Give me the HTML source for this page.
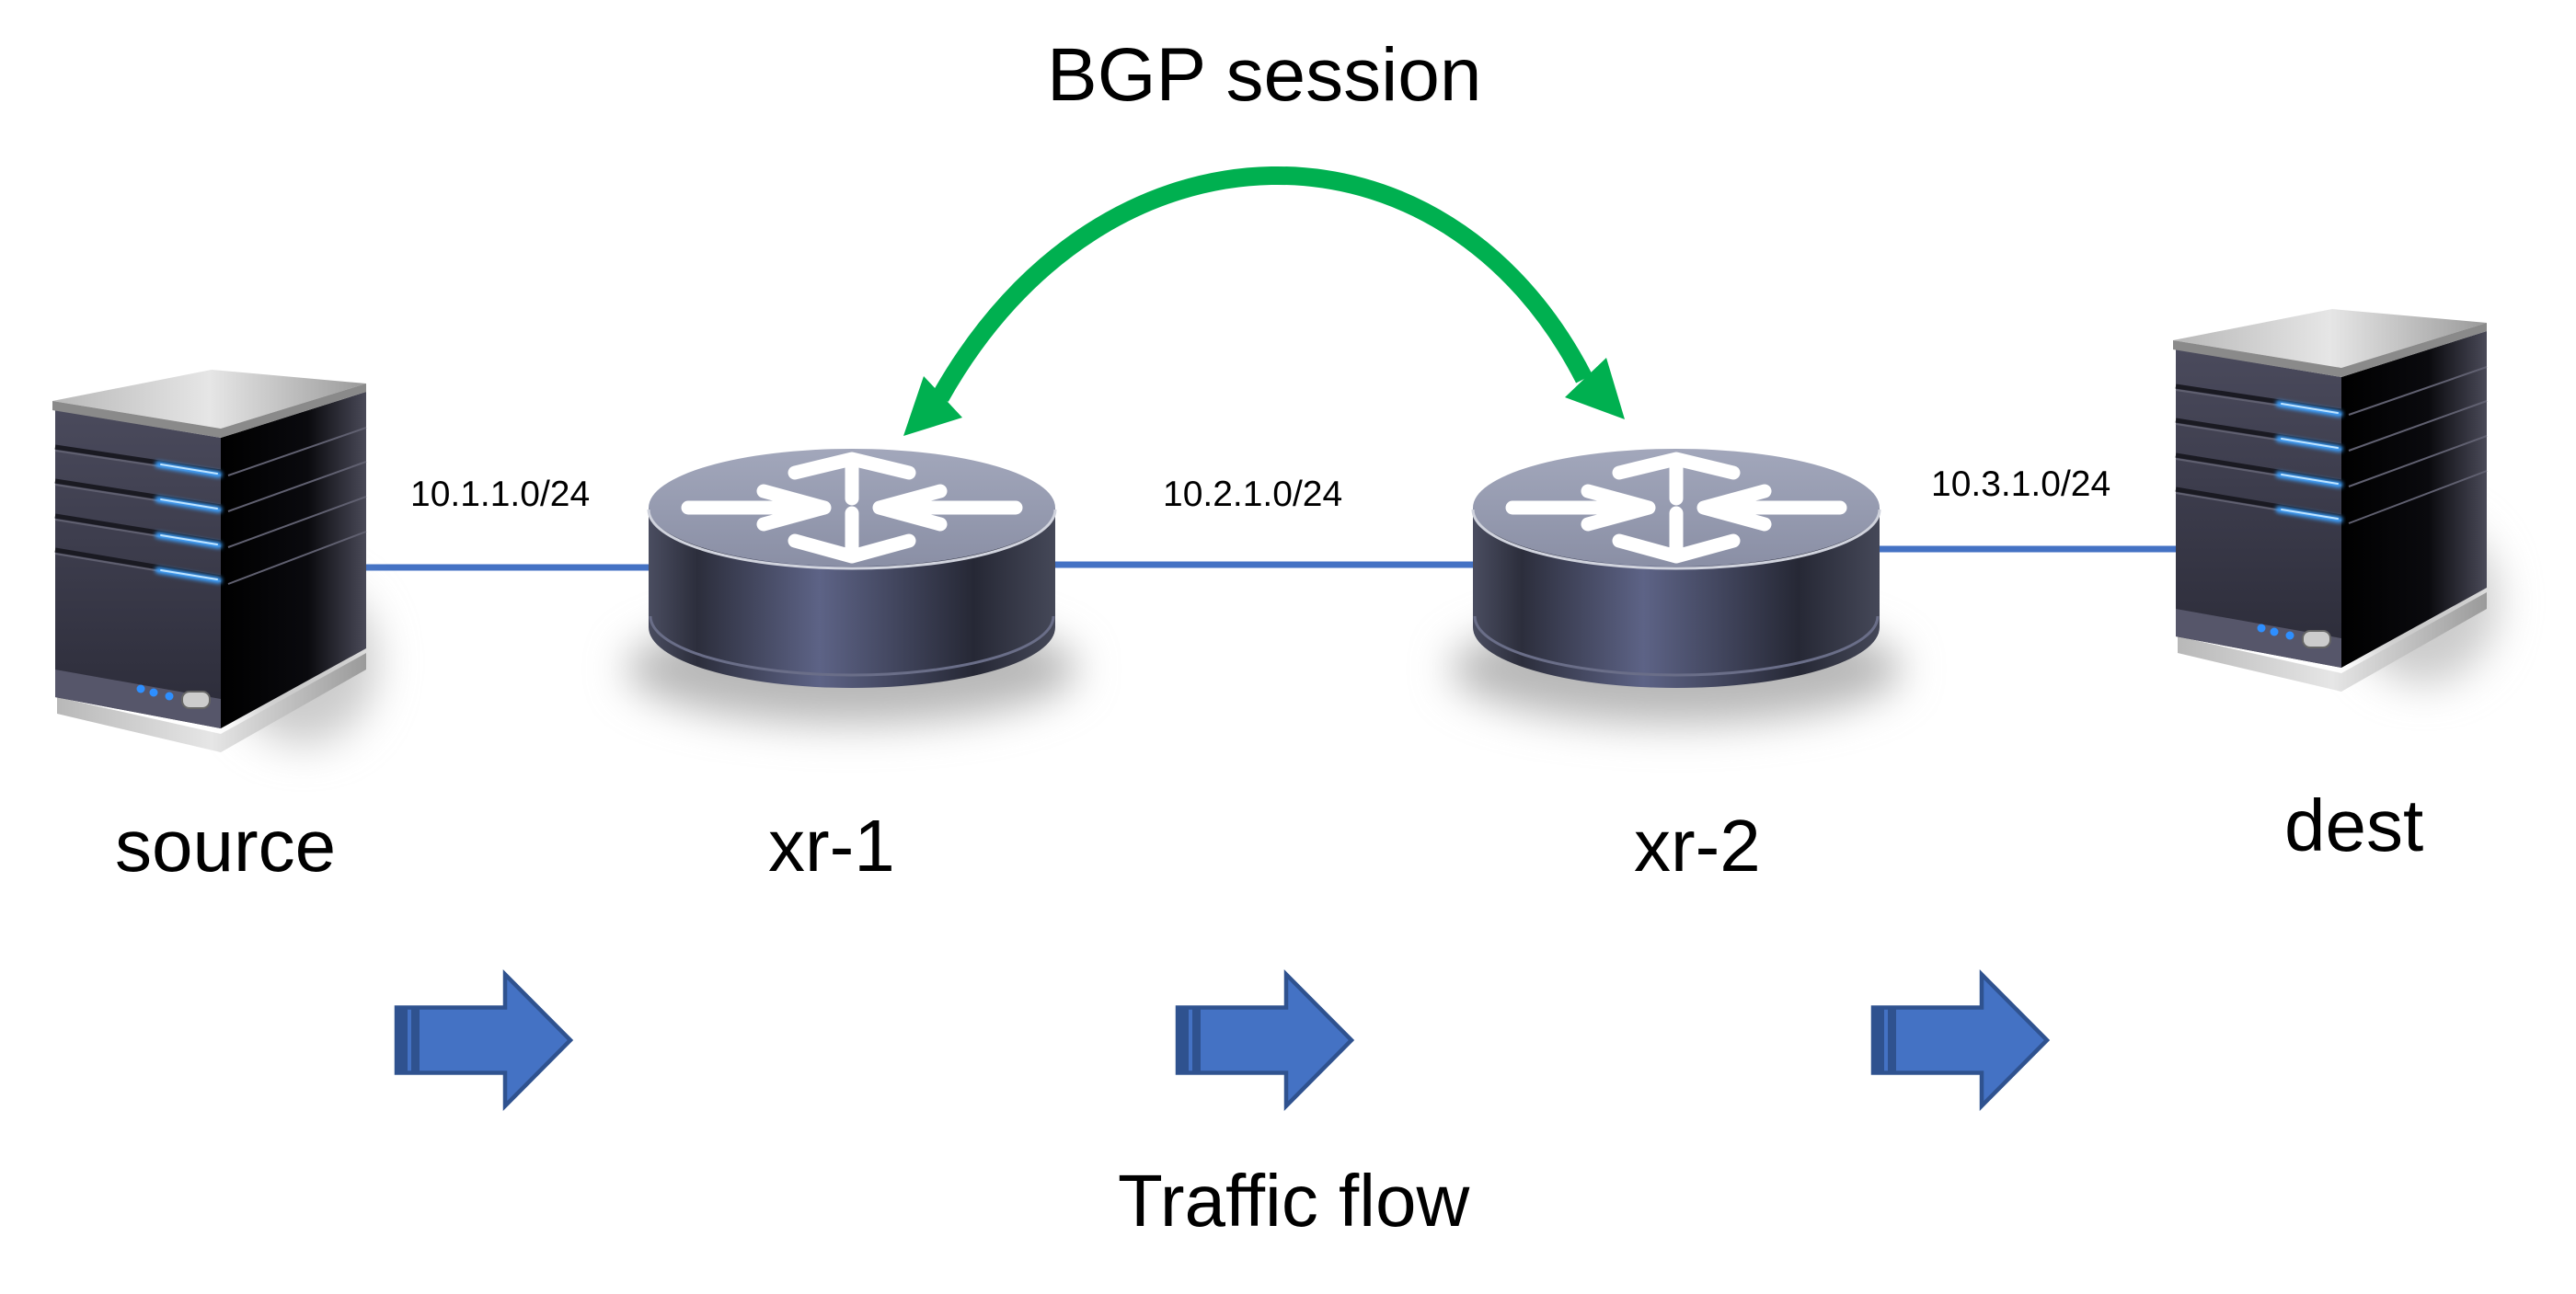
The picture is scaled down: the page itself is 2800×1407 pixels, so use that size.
<!DOCTYPE html>
<html><head><meta charset="utf-8"><style>html,body{margin:0;padding:0;background:#fff}svg{display:block}</style></head>
<body>
<svg width="2800" height="1407" viewBox="0 0 2800 1407" xmlns="http://www.w3.org/2000/svg" font-family="Liberation Sans, Arial, sans-serif">
<defs>
<linearGradient id="body" x1="0" x2="1" y1="0" y2="0">
<stop offset="0" stop-color="#4a4d60"/><stop offset="0.12" stop-color="#2c2e3c"/><stop offset="0.42" stop-color="#5d6386"/><stop offset="0.8" stop-color="#262835"/><stop offset="1" stop-color="#454858"/>
</linearGradient>
<linearGradient id="top" x1="0" x2="0" y1="0" y2="1">
<stop offset="0" stop-color="#a2a7bb"/><stop offset="1" stop-color="#8a8fa5"/>
</linearGradient>
<linearGradient id="slab" x1="0" x2="1" y1="0" y2="0">
<stop offset="0" stop-color="#b8b8b8"/><stop offset="0.5" stop-color="#e6e6e6"/><stop offset="1" stop-color="#9a9a9a"/>
</linearGradient>
<linearGradient id="lface" x1="0" x2="0" y1="0" y2="1">
<stop offset="0" stop-color="#4a4a5c"/><stop offset="1" stop-color="#2b2b38"/>
</linearGradient>
<linearGradient id="rface" x1="0" x2="1" y1="0" y2="0">
<stop offset="0" stop-color="#000"/><stop offset="0.6" stop-color="#0a0a0e"/><stop offset="1" stop-color="#4a4a58"/>
</linearGradient>
<filter id="blur" x="-50%" y="-50%" width="200%" height="200%"><feGaussianBlur stdDeviation="22"/></filter>
<filter id="glow"><feGaussianBlur stdDeviation="2"/></filter>
<g id="router">
<ellipse cx="0" cy="175" rx="245" ry="60" fill="#b8b8b8" filter="url(#blur)"/>
<path d="M-221,0 L-221,130 A221,66 0 0 0 221,130 L221,0 Z" fill="url(#body)"/>
<path d="M-219,118 A219,64 0 0 0 219,118" fill="none" stroke="#6a6e88" stroke-width="3"/>
<ellipse cx="0" cy="0" rx="221" ry="64" fill="url(#top)"/>
<path d="M-221,2 A221,64 0 0 0 221,2" fill="none" stroke="#d0d3dd" stroke-width="3"/>
<g stroke="#fff" stroke-width="15" stroke-linecap="round" stroke-linejoin="round" fill="none">
<line x1="-178" y1="0" x2="-40" y2="0"/><polyline points="-96,-18 -30,0 -96,18"/>
<line x1="178" y1="0" x2="40" y2="0"/><polyline points="96,-18 30,0 96,18"/>
<line x1="0" y1="-10" x2="0" y2="-50"/><polyline points="-62,-38 0,-53 62,-38"/>
<line x1="0" y1="6" x2="0" y2="50"/><polyline points="-62,36 0,53 62,36"/>
</g>
</g>
<g id="server">
<ellipse cx="330" cy="720" rx="80" ry="90" fill="#ccc" filter="url(#blur)"/>
<polygon points="62,758 240,798 398,710 398,728 240,818 62,776" fill="url(#slab)"/>
<polygon points="60,446 240,476 240,792 60,758" fill="url(#lface)"/>
<polygon points="60,728 240,760 240,792 60,758" fill="#56566a"/>
<polygon points="240,476 398,426 398,705 240,792" fill="url(#rface)"/>
<polygon points="57,436 230,402 398,417 240,466" fill="url(#slab)"/>
<polygon points="57,436 240,466 398,417 398,426 240,476 57,446" fill="#8a8a8a"/>
<g stroke="#1a1a22" stroke-width="5">
<line x1="60" y1="486" x2="240" y2="513"/><line x1="60" y1="523" x2="240" y2="551"/><line x1="60" y1="561" x2="240" y2="590"/><line x1="60" y1="598" x2="240" y2="628"/>
</g>
<g stroke="#606070" stroke-width="2">
<line x1="60" y1="490" x2="240" y2="517"/><line x1="60" y1="527" x2="240" y2="555"/><line x1="60" y1="565" x2="240" y2="594"/><line x1="60" y1="602" x2="240" y2="632"/>
<line x1="248" y1="517" x2="398" y2="465"/><line x1="248" y1="556" x2="398" y2="502"/><line x1="248" y1="595" x2="398" y2="540"/><line x1="248" y1="635" x2="398" y2="578"/>
</g>
<g stroke="#3aa0ff" stroke-width="7" stroke-linecap="round" filter="url(#glow)">
<line x1="172" y1="505" x2="238" y2="516"/><line x1="172" y1="543" x2="238" y2="554"/><line x1="172" y1="582" x2="238" y2="593"/><line x1="172" y1="620" x2="238" y2="631"/>
</g>
<g stroke="#bfe4ff" stroke-width="2" stroke-linecap="round">
<line x1="175" y1="505" x2="236" y2="515"/><line x1="175" y1="543" x2="236" y2="553"/><line x1="175" y1="582" x2="236" y2="592"/><line x1="175" y1="620" x2="236" y2="630"/>
</g>
<circle cx="153" cy="749" r="4.5" fill="#2e8fff"/><circle cx="167" cy="753" r="4.5" fill="#2e8fff"/><circle cx="184" cy="757" r="4.5" fill="#2e8fff"/>
<rect x="198" y="752" width="30" height="18" rx="8" fill="#ccc" stroke="#666" stroke-width="2"/>
</g>
<g id="barrow">
<path d="M0,-35.5 H118 V-71.5 L189,0 L118,71.5 V35.5 H0 Z" fill="#4472c4" stroke="#2f528f" stroke-width="4.5"/>
<rect x="0" y="-35.5" width="12" height="71" fill="#2f528f"/>
<rect x="16" y="-35.5" width="9" height="71" fill="#2f528f"/>
</g>
</defs>

<line x1="398" y1="617" x2="710" y2="617" stroke="#4472c4" stroke-width="7"/>
<line x1="1140" y1="614" x2="1610" y2="614" stroke="#4472c4" stroke-width="7"/>
<line x1="2040" y1="597" x2="2370" y2="597" stroke="#4472c4" stroke-width="7"/>

<use href="#server"/>
<use href="#server" transform="translate(2305,-66)"/>
<use href="#router" transform="translate(926,552)"/>
<use href="#router" transform="translate(1822,552)"/>

<path d="M1022,432 C1200,114 1570,114 1722,412" fill="none" stroke="#00b050" stroke-width="20"/>
<polygon points="982,474 1004,409 1046,454" fill="#00b050"/>
<polygon points="1766,456 1746,389 1701,432" fill="#00b050"/>

<use href="#barrow" transform="translate(431,1131)"/>
<use href="#barrow" transform="translate(1280,1131)"/>
<use href="#barrow" transform="translate(2036,1131)"/>

<g fill="#000">
<text x="1138" y="109" font-size="82">BGP session</text>
<text x="446" y="550" font-size="39">10.1.1.0/24</text>
<text x="1264" y="550" font-size="39">10.2.1.0/24</text>
<text x="2099" y="539" font-size="39">10.3.1.0/24</text>
<text x="125" y="947" font-size="80">source</text>
<text x="835" y="947" font-size="80">xr-1</text>
<text x="1776" y="947" font-size="80">xr-2</text>
<text x="2483" y="925" font-size="80">dest</text>
<text x="1215" y="1333" font-size="80">Traffic flow</text>
</g>
</svg>
</body></html>
